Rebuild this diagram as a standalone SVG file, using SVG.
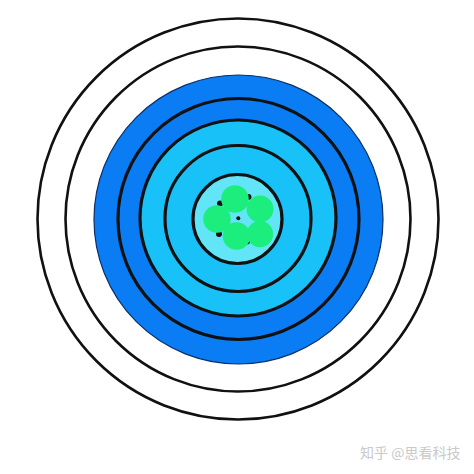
<svg xmlns="http://www.w3.org/2000/svg" width="474" height="474" viewBox="0 0 474 474">
<style>
.ring{stroke:#111;stroke-width:2.6}
.in{stroke-width:3.2}
.w{fill:#fff}
.db{fill:#0a7cf4}
.lb{fill:#18c2f8}
.pc{fill:#62e6f7}
.g{fill:#1cee7e}
.k{fill:#111}
.wm{font-family:"Noto Sans CJK SC","Liberation Sans",sans-serif;font-size:14px;fill:#c9c9c9}
</style>
<rect width="474" height="474" fill="#fff"/>
<g id="target">
<circle class="ring w" cx="238" cy="219" r="200.5"/>
<circle class="ring w" cx="238" cy="219" r="172.5"/>
<circle class="db" cx="238.5" cy="219.5" r="144.5" stroke="#0b2f66" stroke-width="1.2"/>
<circle class="ring in db" cx="238.5" cy="219" r="120.5"/>
<circle class="ring in lb" cx="238" cy="218" r="98"/>
<circle class="ring in lb" cx="238" cy="218.5" r="73"/>
<circle class="ring in pc" cx="237.5" cy="219" r="44.5"/>
</g>
<g id="hits">
<circle class="k" cx="220" cy="203.5" r="3"/>
<circle class="k" cx="248.5" cy="197" r="3"/>
<circle class="k" cx="219" cy="234" r="3"/>
<circle class="k" cx="247" cy="241.5" r="3"/>
<circle class="g" cx="235" cy="199" r="13.8"/>
<circle class="g" cx="260" cy="209" r="13.5"/>
<circle class="g" cx="217" cy="219" r="13.8"/>
<circle class="g" cx="236.5" cy="236" r="13.8"/>
<circle class="g" cx="260" cy="234" r="13.2"/>
<circle class="k" cx="238.3" cy="218.3" r="2"/>
</g>
<text class="wm" x="360" y="458">知乎 @思看科技</text>
</svg>
